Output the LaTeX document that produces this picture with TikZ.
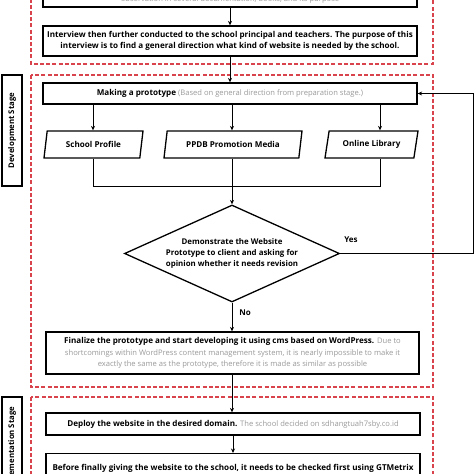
\documentclass[tikz,border=0pt]{standalone}
\usepackage{fontspec}
\setmainfont{Open Sans}
\usetikzlibrary{arrows.meta,shapes.geometric}
\definecolor{stagered}{HTML}{D8434C}
\definecolor{lightgray}{HTML}{9A9A9A}
\newcommand{\lt}[1]{{\fontsize{7.6}{11.4}\fontseries{m}\selectfont\color{lightgray}#1}}
\tikzset{
  stagebox/.style={draw=stagered, line width=1.2pt, dash pattern=on 4pt off 2.2pt},
  labbox/.style={draw=black, line width=1.2pt, fill=white},
  procbox/.style={draw=black, line width=1.3pt, fill=white, align=center, inner sep=0pt,
     font=\fontsize{8.1}{11.4}\selectfont\bfseries},
  iobox/.style={draw=black, line width=1.3pt, fill=white, trapezium, trapezium left angle=63,
     trapezium right angle=117, trapezium stretches body, minimum height=27pt, inner sep=0pt,
     font=\fontsize{8.1}{11}\selectfont\bfseries},
  decbox/.style={draw=black, line width=1.3pt, fill=white, diamond, aspect=2.2, inner sep=0pt,
     minimum width=215pt, minimum height=97pt, align=center,
     font=\fontsize{7.9}{11.2}\selectfont\bfseries},
  stagetext/.style={rotate=90, font=\fontsize{7.8}{9}\selectfont\bfseries},
  lbl/.style={font=\fontsize{8}{9}\selectfont\bfseries},
  arr/.style={line width=1pt, -{Stealth[length=4.5pt,width=4pt]}},
  ln/.style={line width=1pt},
}
\begin{document}
\begin{tikzpicture}[x=1pt,y=-1pt]
\useasboundingbox (0,0) rectangle (474,474);
\clip (0,0) rectangle (474,474);
% stage frames
\draw[stagebox] (31,-20) rectangle (433,64);
\draw[stagebox] (31,75) rectangle (433,387);
\draw[stagebox] (31,397) rectangle (433,520);
% stage labels
\node[labbox, minimum width=20pt, minimum height=111pt, inner sep=0pt] (devlab) at (12,130.5) {};
\node[stagetext] (devtxt) at (devlab.center) {Development Stage};
\node[labbox, minimum width=20pt, minimum height=106pt, inner sep=0pt] (implab) at (12,450) {};
\node[stagetext] (imptxt) at (implab.center) {Implementation Stage};
% column coordinates
\coordinate (cA) at (93,0);
\coordinate (cB) at (232,0);
\coordinate (cC) at (380,0);
% boxes
\node[procbox, minimum width=374pt, minimum height=14pt] (obs) at (230,0)
  {\lt{observation in several documentation, books, and its purpose}};
\node[procbox, minimum width=374pt, minimum height=30pt] (intv) at (230,41)
  {Interview then further conducted to the school principal and teachers. The purpose of this\\
   interview is to find a general direction what kind of website is needed by the school.};
\node[procbox, minimum width=374pt, minimum height=21pt] (proto) at (230,93.5)
  {Making a prototype \lt{(Based on general direction from preparation stage.)}};
\node[iobox, minimum width=99pt] (sp) at (93.5,144.5) {School Profile};
\node[iobox, minimum width=138pt] (ppdb) at (233,144.5) {PPDB Promotion Media};
\node[iobox, minimum width=93pt] (ol) at (371.5,144.5) {Online Library};
\node[decbox] (dec) at (232,253.5)
  {Demonstrate the Website\\Prototype to client and asking for\\opinion whether it needs revision};
\node[procbox, minimum width=373pt, minimum height=42pt] (fin) at (232.5,353)
  {Finalize the prototype and start developing it using cms based on WordPress. \lt{Due to}\\
   \lt{shortcomings within WordPress content management system, it is nearly impossible to make it}\\
   \lt{exactly the same as the prototype, therefore it is made as similar as possible}};
\node[procbox, minimum width=374pt, minimum height=22pt] (dep) at (233,424)
  {Deploy the website in the desired domain. \lt{The school decided on sdhangtuah7sby.co.id}};
\node[procbox, minimum width=374pt, minimum height=40pt, anchor=north, inner ysep=6pt] (gtm) at (233,453)
  {Before finally giving the website to the school, it needs to be checked first using GTMetrix\\
   in order to be optimized as much as possible};
% connectors
\draw[arr] (obs.south -| intv) -- (intv.north);
\draw[arr] (intv.south) -- (proto.north);
\draw[arr] (proto.south -| cA) -- (sp.north -| cA);
\draw[arr] (proto.south -| cB) -- (ppdb.north -| cB);
\draw[arr] (proto.south -| cC) -- (ol.north -| cC);
\coordinate (jA) at (93,186);
\coordinate (jB) at (232,186);
\coordinate (jC) at (380,186);
\draw[ln] (sp.south -| cA) -- (jA) -- (jC) -- (ol.south -| cC);
\draw[ln] (ppdb.south -| cB) -- (jB);
\draw[arr] (jB) -- (dec.north);
\coordinate (yR) at (473,253.5);
\coordinate (yT) at (473,93.5);
\draw[arr] (dec.east) -- (yR) -- (yT) -- (proto.east);
\node[lbl] (yes) at (351,240) {Yes};
\draw[arr] (dec.south) -- (fin.north -| dec.south);
\node[lbl] (no) at (245,313) {No};
\draw[arr] (fin.south -| dec.south) -- (dep.north -| dec.south);
\draw[arr] (dep.south) -- (gtm.north);
\end{tikzpicture}
\end{document}
